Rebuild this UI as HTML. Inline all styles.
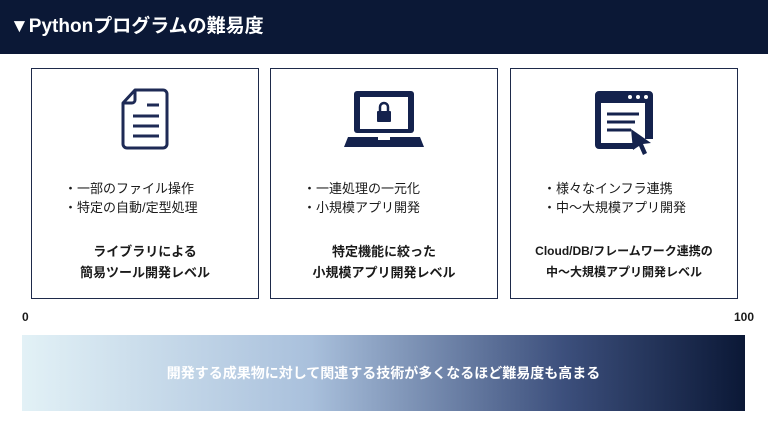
<!DOCTYPE html>
<html><head><meta charset="utf-8"><style>
*{margin:0;padding:0;box-sizing:border-box}
body{width:768px;height:432px;background:#fff;position:relative;overflow:hidden;font-family:"Liberation Sans","Noto Sans CJK JP",sans-serif;color:#1a1a1a}
.hdr{position:absolute;left:0;top:0;width:768px;height:54px;background:#0b1836;color:#fff;font-weight:bold;font-size:19px;line-height:54px;padding-left:10px}
.box{position:absolute;top:68px;width:228px;height:231px;border:1.5px solid #1e2a4a}
.icon{position:absolute;left:0;right:0;top:18px;text-align:center}
.bul{position:absolute;left:32px;top:110px;font-size:13px;line-height:19px}
.ttl{position:absolute;left:0;right:0;top:172px;text-align:center;font-weight:bold;font-size:13px;line-height:21px}
.lbl{position:absolute;top:310px;font-size:12px;font-weight:bold}
.bar{position:absolute;left:22px;top:335px;width:723px;height:76px;background:linear-gradient(90deg,#e2f1f6 0%,#a9c0dc 40%,#3c4f7c 75%,#0b1836 100%);color:#fff;font-weight:bold;font-size:14px;text-align:center;line-height:76px}
</style></head><body>
<div class="hdr">▼Pythonプログラムの難易度</div>

<div class="box" style="left:31px">
<div class="icon"><svg width="52" height="64" viewBox="0 0 52 64"><path d="M16 3 H44 a4 4 0 0 1 4 4 V57 a4 4 0 0 1 -4 4 H8 a4 4 0 0 1 -4 -4 V16 Z" fill="none" stroke="#1e2a55" stroke-width="3" stroke-linejoin="round"/><path d="M16 3 V13 a3 3 0 0 1 -3 3 H4" fill="none" stroke="#1e2a55" stroke-width="3"/><g stroke="#1e2a55" stroke-width="3"><line x1="28" y1="18" x2="40" y2="18"/><line x1="14" y1="29" x2="40" y2="29"/><line x1="14" y1="39" x2="40" y2="39"/><line x1="14" y1="49" x2="40" y2="49"/></g></svg></div>
<div class="bul">・一部のファイル操作<br>・特定の自動/定型処理</div>
<div class="ttl">ライブラリによる<br>簡易ツール開発レベル</div>
</div>

<div class="box" style="left:270px">
<div class="icon"><svg width="84" height="64" viewBox="0 0 84 64"><rect x="12" y="4" width="60" height="42" rx="3" fill="#14224d"/><rect x="18" y="10" width="48" height="32" fill="#fff"/><path d="M6 50 H78 L82 60 H2 Z" fill="#14224d"/><rect x="36" y="50" width="12" height="3" fill="#fff"/><rect x="35" y="24" width="14" height="11" rx="1" fill="#14224d"/><path d="M38 24 V20 a4 4 0 0 1 8 0 V24" fill="none" stroke="#14224d" stroke-width="2.5"/></svg></div>
<div class="bul">・一連処理の一元化<br>・小規模アプリ開発</div>
<div class="ttl">特定機能に絞った<br>小規模アプリ開発レベル</div>
</div>

<div class="box" style="left:510px">
<div class="icon"><svg width="70" height="70" viewBox="0 0 70 70"><path d="M6 4 H60 a4 4 0 0 1 4 4 V52 H56 V16 H12 V56 H44 V62 H10 a4 4 0 0 1 -4 -4 V8 a4 4 0 0 1 4 -4 Z" fill="#14224d"/><circle cx="41" cy="10" r="2" fill="#fff"/><circle cx="49" cy="10" r="2" fill="#fff"/><circle cx="57" cy="10" r="2" fill="#fff"/><g stroke="#14224d" stroke-width="3"><line x1="18" y1="27" x2="50" y2="27"/><line x1="18" y1="35" x2="46" y2="35"/><line x1="18" y1="43" x2="42" y2="43"/></g><path d="M42 42 L62 56 L54 57 L58 66 L54 68 L50 59 L44 63 Z" fill="#14224d"/></svg></div>
<div class="bul">・様々なインフラ連携<br>・中～大規模アプリ開発</div>
<div class="ttl" style="font-size:12px">Cloud/DB/フレームワーク連携の<br>中～大規模アプリ開発レベル</div>
</div>

<div class="lbl" style="left:22px">0</div>
<div class="lbl" style="left:734px">100</div>
<div class="bar">開発する成果物に対して関連する技術が多くなるほど難易度も高まる</div>
</body></html>
